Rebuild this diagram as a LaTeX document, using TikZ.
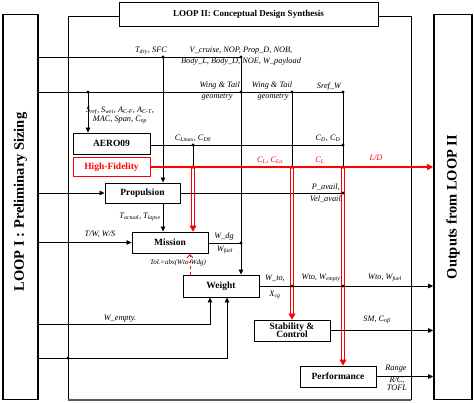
\documentclass[tikz,border=0pt]{standalone}
\usepackage{fontspec}
\setmainfont{Liberation Serif}
\usetikzlibrary{arrows.meta}
\newcommand{\sbs}[1]{\textsubscript{#1}}
\begin{document}
\begin{tikzpicture}[x=1pt,y=-1pt,
  blk/.style={draw,line width=0.9pt,fill=white,inner sep=0pt,minimum width=76pt,minimum height=21pt,
    font=\bfseries\fontsize{9.5}{10}\selectfont,align=center},
  lbl/.style={inner sep=0pt,font=\itshape\fontsize{8.3}{9}\selectfont,align=center},
  rlbl/.style={lbl,text=red},
  wire/.style={line width=0.8pt},
  arr/.style={wire,-{Triangle[length=5pt,width=4.5pt]}},
  redline/.style={draw=red,line width=1.1pt},
  pipeL/.style={draw=red,line width=0.9pt,transform canvas={xshift=-1.3pt},shorten >=5pt},
  pipeR/.style={draw=red,line width=0.9pt,transform canvas={xshift=1.3pt},shorten >=5pt},
  redtip/.style={draw=red,line width=1pt,-{Triangle[length=6pt,width=7pt]}},
  dot/.style={circle,fill,inner sep=0pt,minimum size=3.4pt},
  rdot/.style={circle,fill=red,inner sep=0pt,minimum size=3.8pt}]
\useasboundingbox (0,0) rectangle (474,402);

% outer frames
\node[draw,line width=1.6pt,minimum width=35pt,minimum height=385pt,inner sep=0pt] (loopI) at (20.5,207) {};
\node[rotate=90,font=\bfseries\fontsize{14.5}{16}\selectfont] at (20.5,202) {LOOP I : Preliminary Sizing};
\node[draw,line width=1.6pt,minimum width=38pt,minimum height=385pt,inner sep=0pt] (out) at (453,207) {};
\node[rotate=90,font=\bfseries\fontsize{14.5}{16}\selectfont] at (453,207) {Outputs from LOOP II};
\draw[line width=1pt] (68,400) -- (68,16) -- (411,16) -- (411,400);
\draw[line width=1.6pt,gray!70!black] (68,400) -- (411,400);
\node[draw,line width=0.8pt,fill=white,minimum width=259pt,minimum height=24pt,inner sep=0pt,
  font=\bfseries\fontsize{9}{10}\selectfont] (title) at (248.5,14) {LOOP II: Conceptual Design Synthesis};

% boxes
\node[blk,minimum width=77pt] (aero) at (111.5,143.5) {AERO09};
\node[blk,draw=red,text=red,minimum width=77pt,minimum height=19pt] (hifi) at (111.5,167) {High-Fidelity};
\node[blk,minimum width=75pt,minimum height=20pt] (prop) at (142.5,193) {Propulsion};
\node[blk] (mission) at (170,242.5) {Mission};
\node[blk,minimum height=22pt] (weight) at (221,286) {Weight};
\node[blk] (stab) at (292,330.5) {Stability \&\\[-2pt]Control};
\node[blk] (perf) at (338,376.5) {Performance};

% junction coordinates
\coordinate (a1) at (163,57);
\coordinate (a2) at (241,57);
\coordinate (b1) at (88,92);
\coordinate (b2) at (241,92);
\coordinate (b3) at (292,92);
\coordinate (b4) at (343,92);
\coordinate (c1) at (193,145);
\coordinate (c2) at (343,145);
\coordinate (r1) at (193,167);
\coordinate (r2) at (292,167);
\coordinate (r3) at (343,167);
\coordinate (p1) at (343,193);
\coordinate (m1) at (241,243);
\coordinate (w1) at (292,286);
\coordinate (w2) at (343,286);
\coordinate (e1) at (210,324);
\coordinate (e2) at (227,358);
\coordinate (e3) at (68,358);
\coordinate (t1) at (190,275);
\coordinate (t2) at (190,254);

% input lines from LOOP I
\draw[wire] (loopI.east |- a1) -- (a2);
\draw[wire] (loopI.east |- b1) -- (b4);
\draw[arr] (b1) -- (b1 |- aero.north);
\draw[arr] (a1) -- (a1 |- prop.north);
\draw[wire] (a2) -- (m1);
\draw[arr] (m1) -- (m1 |- weight.north);
\draw[wire] (b3) -- (r2);
\draw[wire] (b4) -- (r3);
\draw[wire] (aero.east |- c1) -- (c2);
\draw[wire] (c1) -- (r1);
\draw[arr] (loopI.east |- prop.west) -- (prop.west);
\draw[arr] (a1 |- prop.south) -- (a1 |- mission.north);
\draw[arr] (loopI.east |- mission.west) -- (mission.west);
\draw[wire] (prop.east) -- (p1);
\draw[wire] (mission.east |- m1) -- (m1);
\draw[arr] (loopI.east |- e1) -- (e1) -- (e1 |- weight.south);
\draw[arr] (loopI.east |- e2) -- (e2) -- (e2 |- weight.south);

% red high-fidelity paths
\draw[redline,-{Triangle[length=6pt,width=6pt]}] (hifi.east) -- (out.west |- hifi.east);
\foreach \r/\b in {r1/mission,r2/stab,r3/perf}{
  \draw[pipeL] (\r) -- (\r |- \b.north);
  \draw[pipeR] (\r) -- (\r |- \b.north);
  \draw[redtip] ([yshift=6pt]\r |- \b.north) -- (\r |- \b.north);
}
\draw[red,dashed,line width=0.9pt,-{Straight Barb[length=3pt,width=6pt]}] (t1) -- (t2);

% outputs
\draw[arr] (weight.east) -- (out.west |- weight.east);
\draw[arr] (stab.east) -- (out.west |- stab.east);
\draw[arr] (perf.east) -- (out.west |- perf.east);

% dots
\foreach \p in {a1,a2,b1,b2,b3,b4,c1,c2,p1,m1,w1,w2,e3} \node[dot] at (\p) {};
\foreach \p in {r1,r2,r3} \node[rdot] at (\p) {};

% labels
\node[lbl] at (151,51) {T\sbs{dry}, SFC};
\node[lbl] at (241,51) {V\_cruise, NOP, Prop\_D, NOB,};
\node[lbl] at (241,62) {Body\_L, Body\_D, NOE, W\_payload};
\node[lbl,anchor=east] at (240,86) {Wing \& Tail};
\node[lbl] at (217,97) {geometry};
\node[lbl] at (272,86) {Wing \& Tail};
\node[lbl] at (273,97) {geometry};
\node[lbl] at (329,86) {Sref\_W};
\node[lbl] at (120,111) {S\sbs{ref}, S\sbs{wet}, A\sbs{C-F}, A\sbs{C-T},};
\node[lbl] at (120,120) {MAC, Span, C\sbs{np}};
\node[lbl] at (193,138) {C\sbs{Lmax}, C\sbs{D0}};
\node[lbl] at (328,138) {C\sbs{D}, C\sbs{D}};
\node[rlbl] at (270,160) {C\sbs{L}, C\sbs{Lα}};
\node[rlbl] at (320,160) {C\sbs{L}};
\node[rlbl] at (376,158) {L/D};
\node[lbl,anchor=east] at (340,187) {P\_avail,};
\node[lbl,anchor=east] at (341,199) {Vel\_avail};
\node[lbl] at (140,217) {T\sbs{actual}, T\sbs{lapse}};
\node[lbl] at (100,234) {T/W, W/S};
\node[lbl] at (224,236) {W\_dg};
\node[lbl] at (225,250) {W\sbs{fuel}};
\node[lbl,font=\itshape\fontsize{7}{7}\selectfont] at (178,263) {Tol.=abs(Wto-Wdg)};
\node[lbl] at (275,278) {W\_to,};
\node[lbl] at (275,295) {X\sbs{cg}};
\node[lbl] at (321,278) {Wto, W\sbs{empty}};
\node[lbl] at (385,278) {Wto, W\sbs{fuel}};
\node[lbl] at (377,320) {SM, C\sbs{nβ}};
\node[lbl] at (396,369) {Range};
\node[lbl] at (397,380.5) {R/C,};
\node[lbl] at (397,388) {TOFL};
\node[lbl] at (120,319) {W\_empty.};
\end{tikzpicture}
\end{document}
